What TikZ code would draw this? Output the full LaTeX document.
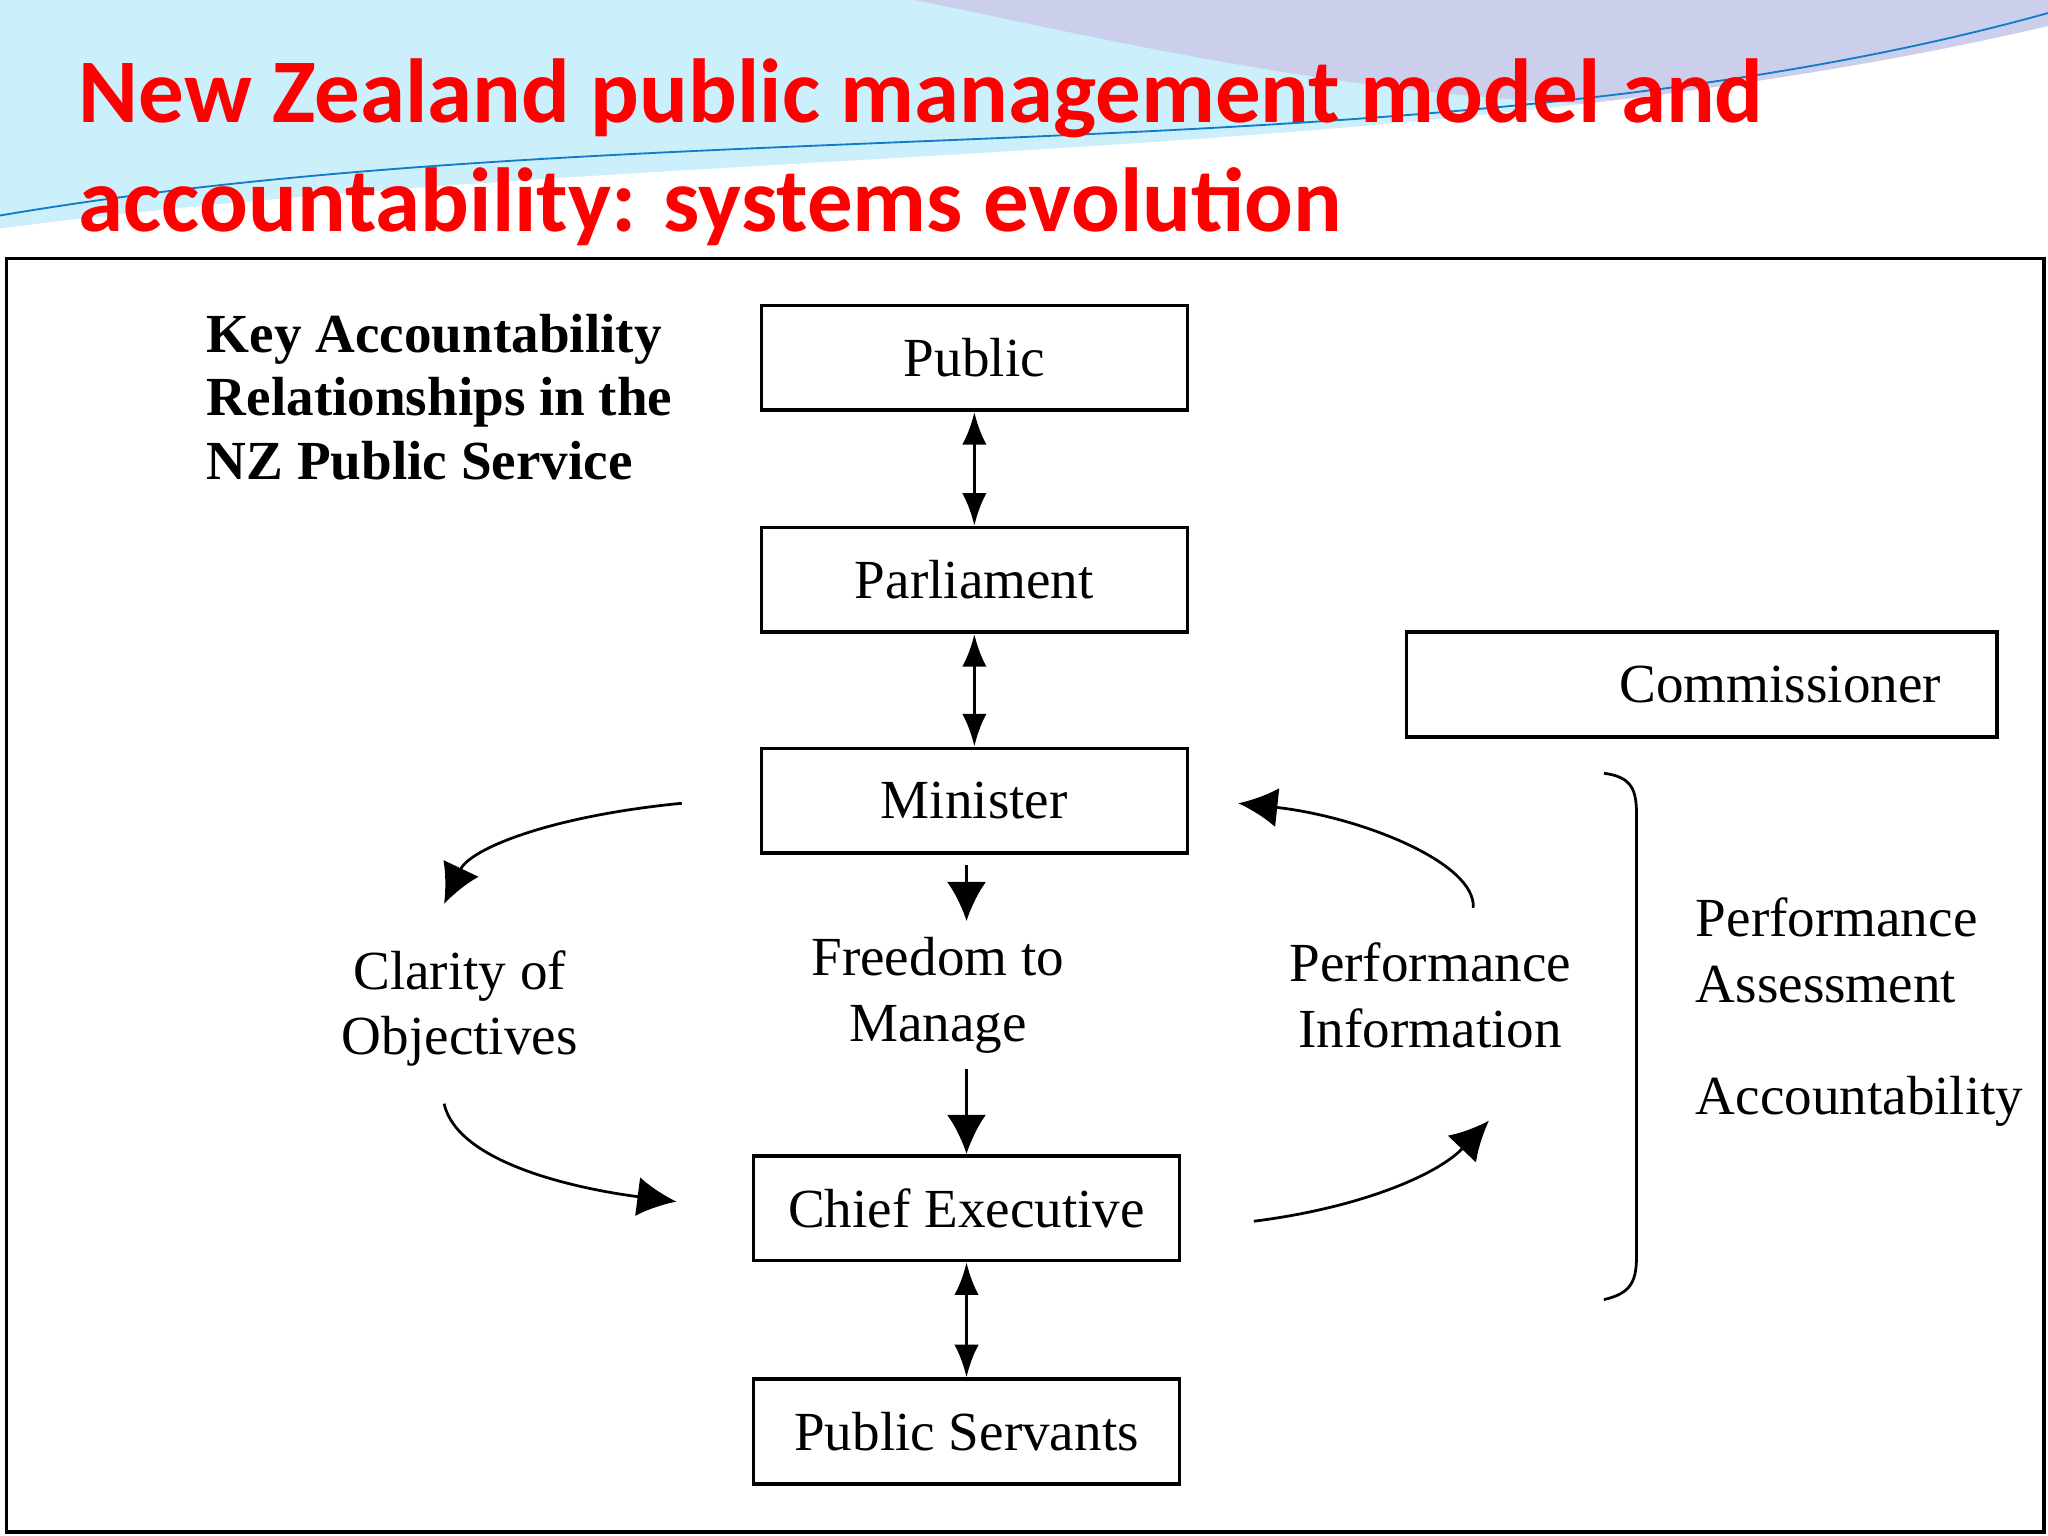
\documentclass[tikz,border=0pt]{standalone}
\usepackage{fontspec}
\setmainfont{Liberation Serif}
\newfontfamily\titlefont{Carlito}
\usetikzlibrary{positioning,arrows.meta}
\tikzset{box/.style={draw,thick,minimum width=3.26cm,minimum height=0.8cm,font=\fontsize{12}{14}\selectfont},
  lbl/.style={font=\fontsize{12}{14.3}\selectfont,align=center},
  dbl/.style={{Latex[length=2.5mm]}-{Latex[length=2.5mm]},thick},
  fwd/.style={-{Latex[length=3mm,width=3mm]},thick},
  crv/.style={-{Latex[length=3mm,width=3mm]},semithick}}
\begin{document}
\begin{tikzpicture}[x=0.01cm,y=-0.01cm]
\useasboundingbox (0,0) rectangle (1568,1176);
% top wave
\fill[cyan!20] (0,0) rectangle (1568,175);
\fill[cyan!30!blue!20] (0,0) -- (700,0) .. controls (900,40) and (1200,120) .. (1568,60) -- (1568,0) -- cycle;
\fill[white] (0,175) .. controls (500,110) and (1100,130) .. (1568,20) -- (1568,198) -- (0,198) -- cycle;
\draw[cyan!60!blue,thin] (0,165) .. controls (500,80) and (1100,140) .. (1568,10);
\node[anchor=west,text=red,font=\titlefont\bfseries\fontsize{19.8}{24}\selectfont] (t1) at (48,75) {New Zealand public management model and};
\node[anchor=west,text=red,font=\titlefont\bfseries\fontsize{19.8}{24}\selectfont] (t2) at (48,158) {accountability: systems evolution};
% frame
\draw[thick,fill=white] (5,198) rectangle (1565,1173);
\node[anchor=north west,align=left,font=\bfseries\fontsize{12}{13.8}\selectfont] (key) at (146,228) {Key Accountability\\Relationships in the\\NZ Public Service};
% boxes
\node[box] (pub) at (746,274) {Public};
\node[box] (par) at (746,444) {Parliament};
\node[box] (min) at (746,613) {Minister};
\node[box] (ce) at (740,925) {Chief Executive};
\node[box] (ps) at (740,1096) {Public Servants};
\node[box,minimum width=4.52cm] (com) at (1303,524) {\hspace*{1.2cm}Commissioner};
\draw[dbl] (pub) -- (par);
\draw[dbl] (par) -- (min);
\draw[dbl] (ce) -- (ps);
% labels
\node[lbl] (free) at (718,762) {Freedom to\\Manage};
\node[lbl] (clar) at (352,772) {Clarity of\\Objectives};
\node[lbl] (perf) at (1095,762) {Performance\\Information};
\draw[fwd] (min.south -| free) ++(22,8) coordinate (f1) -- (f1 |- free.north) coordinate (f2);
\draw[fwd] (free.south -| f1) -- (f1 |- ce.north);
% curved arrows
\coordinate (c1) at (522,615); \coordinate (c2) at (340,692);
\coordinate (c3) at (340,845); \coordinate (c4) at (518,920);
\coordinate (c5) at (960,935); \coordinate (c6) at (1140,858);
\coordinate (c7) at (1128,695); \coordinate (c8) at (948,615);
\draw[crv] (c1) .. controls (420,625) and (360,650) .. (c2);
\draw[crv] (c3) .. controls (350,890) and (440,910) .. (c4);
\draw[crv] (c5) .. controls (1040,925) and (1100,900) .. (c6);
\draw[crv] (c7) .. controls (1130,660) and (1040,625) .. (c8);
% bracket
\draw[semithick] (1228,592) .. controls (1250,595) and (1253,605) .. (1253,625) -- (1253,960) .. controls (1253,980) and (1250,990) .. (1228,995);
\node[lbl,anchor=north west,align=left] (pa) at (1286,675) {Performance\\Assessment};
\node[lbl,anchor=west] (acc) at (1286,843) {Accountability};
\end{tikzpicture}
\end{document}
